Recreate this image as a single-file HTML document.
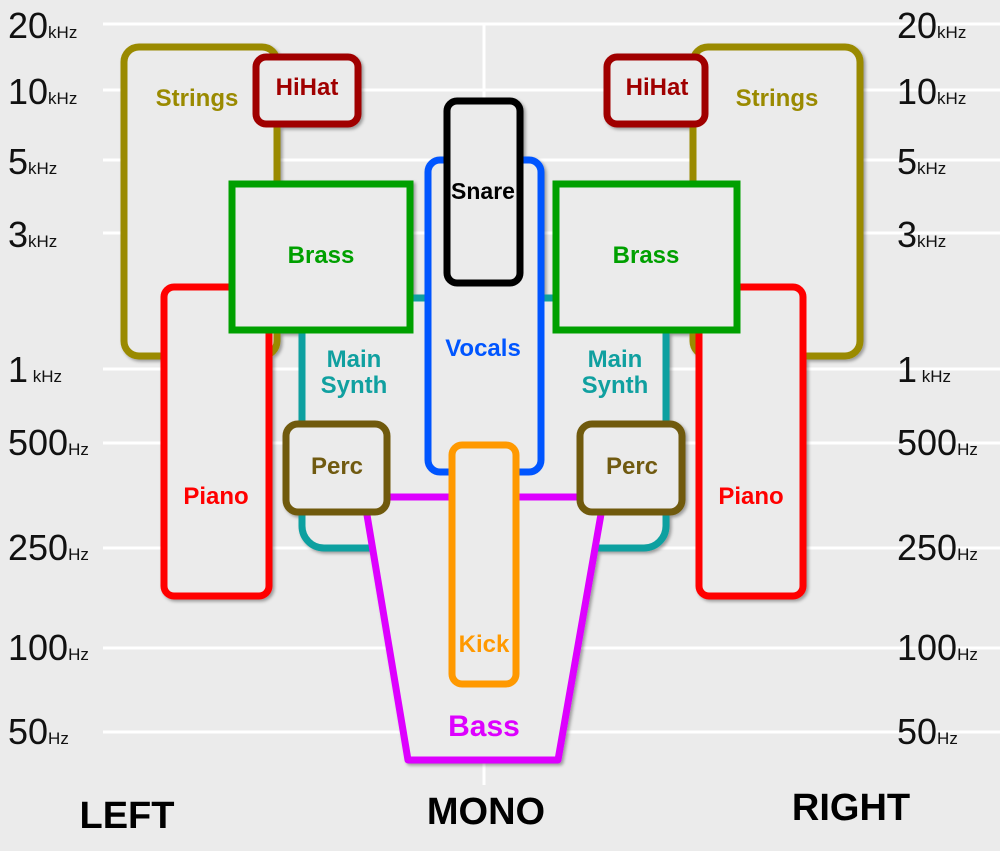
<!DOCTYPE html>
<html><head><meta charset="utf-8"><style>
html,body{margin:0;padding:0;background:#ebebeb;}
svg{display:block;font-family:"Liberation Sans",sans-serif;}
.b{font-weight:bold;text-anchor:middle;}
.ax{font-size:36px;fill:#111;}
.ax tspan.u{font-size:17px;}
</style></head><body>
<svg width="1000" height="851" viewBox="0 0 1000 851">
<defs><filter id="sh" x="-10%" y="-10%" width="130%" height="130%"><feDropShadow dx="2" dy="2" stdDeviation="1.5" flood-color="#000" flood-opacity="0.35"/></filter></defs>
<rect width="1000" height="851" fill="#ebebeb"/>
<g stroke="#fff" stroke-width="3">
<line x1="103" y1="24" x2="1000" y2="24"/><line x1="103" y1="90" x2="1000" y2="90"/>
<line x1="103" y1="160" x2="1000" y2="160"/><line x1="103" y1="233" x2="1000" y2="233"/>
<line x1="103" y1="369" x2="1000" y2="369"/><line x1="103" y1="443" x2="1000" y2="443"/>
<line x1="103" y1="548" x2="1000" y2="548"/><line x1="103" y1="648" x2="1000" y2="648"/>
<line x1="103" y1="732" x2="1000" y2="732"/><line x1="484" y1="24" x2="484" y2="785"/>
</g>
<g fill="#ebebeb" stroke-width="7" filter="url(#sh)">
<rect x="302" y="298" width="364" height="250" rx="22" stroke="#10a0a0"/>
<rect x="124" y="47" width="153" height="309" rx="15" stroke="#9a8a00"/>
<rect x="693" y="47" width="167" height="309" rx="15" stroke="#9a8a00"/>
<rect x="164" y="287" width="105" height="309" rx="10" stroke="#ff0000"/>
<rect x="699" y="287" width="104" height="309" rx="10" stroke="#ff0000"/>
<rect x="232" y="184" width="178" height="146" stroke="#00a000"/>
<rect x="556" y="184" width="181" height="146" stroke="#00a000"/>
<rect x="256" y="57" width="102" height="67" rx="10" stroke="#a00000"/>
<rect x="607" y="57" width="98" height="67" rx="10" stroke="#a00000"/>
<rect x="428" y="160" width="113" height="312" rx="12" stroke="#0055ff"/>
<rect x="447" y="101" width="73" height="182" rx="10" stroke="#000"/>
<polygon points="364,497 604,497 558,760 408,760" stroke="#dd00ff" stroke-linejoin="round"/>
<rect x="286" y="424" width="101" height="88" rx="12" stroke="#705a10"/>
<rect x="580" y="424" width="102" height="88" rx="12" stroke="#705a10"/>
<rect x="452" y="445" width="64" height="239" rx="10" stroke="#ff9900"/>
</g>
<g class="b" font-size="24">
<text x="197" y="106" fill="#9a8a00">Strings</text>
<text x="777" y="106" fill="#9a8a00">Strings</text>
<text x="307" y="95" fill="#a00000">HiHat</text>
<text x="657" y="95" fill="#a00000">HiHat</text>
<text x="321" y="263" fill="#00a000">Brass</text>
<text x="646" y="263" fill="#00a000">Brass</text>
<text x="354" y="367" fill="#10a0a0">Main</text>
<text x="354" y="393" fill="#10a0a0">Synth</text>
<text x="615" y="367" fill="#10a0a0">Main</text>
<text x="615" y="393" fill="#10a0a0">Synth</text>
<text x="483" y="356" fill="#0055ff">Vocals</text>
<text x="483" y="199" fill="#000" font-size="23">Snare</text>
<text x="216" y="504" fill="#ff0000">Piano</text>
<text x="751" y="504" fill="#ff0000">Piano</text>
<text x="337" y="474" fill="#705a10">Perc</text>
<text x="632" y="474" fill="#705a10">Perc</text>
<text x="484" y="652" fill="#ff9900">Kick</text>
<text x="484" y="736" fill="#dd00ff" font-size="30">Bass</text>
</g>
<g class="ax">
<text x="8" y="38">20<tspan class="u">kHz</tspan></text>
<text x="8" y="104">10<tspan class="u">kHz</tspan></text>
<text x="8" y="174">5<tspan class="u">kHz</tspan></text>
<text x="8" y="247">3<tspan class="u">kHz</tspan></text>
<text x="8" y="382">1<tspan class="u"> kHz</tspan></text>
<text x="8" y="455">500<tspan class="u">Hz</tspan></text>
<text x="8" y="560">250<tspan class="u">Hz</tspan></text>
<text x="8" y="660">100<tspan class="u">Hz</tspan></text>
<text x="8" y="744">50<tspan class="u">Hz</tspan></text>
<text x="897" y="38">20<tspan class="u">kHz</tspan></text>
<text x="897" y="104">10<tspan class="u">kHz</tspan></text>
<text x="897" y="174">5<tspan class="u">kHz</tspan></text>
<text x="897" y="247">3<tspan class="u">kHz</tspan></text>
<text x="897" y="382">1<tspan class="u"> kHz</tspan></text>
<text x="897" y="455">500<tspan class="u">Hz</tspan></text>
<text x="897" y="560">250<tspan class="u">Hz</tspan></text>
<text x="897" y="660">100<tspan class="u">Hz</tspan></text>
<text x="897" y="744">50<tspan class="u">Hz</tspan></text>
</g>
<g class="b" font-size="38" fill="#000">
<text x="127" y="828">LEFT</text>
<text x="486" y="824">MONO</text>
<text x="851" y="820">RIGHT</text>
</g>
</svg>
</body></html>
